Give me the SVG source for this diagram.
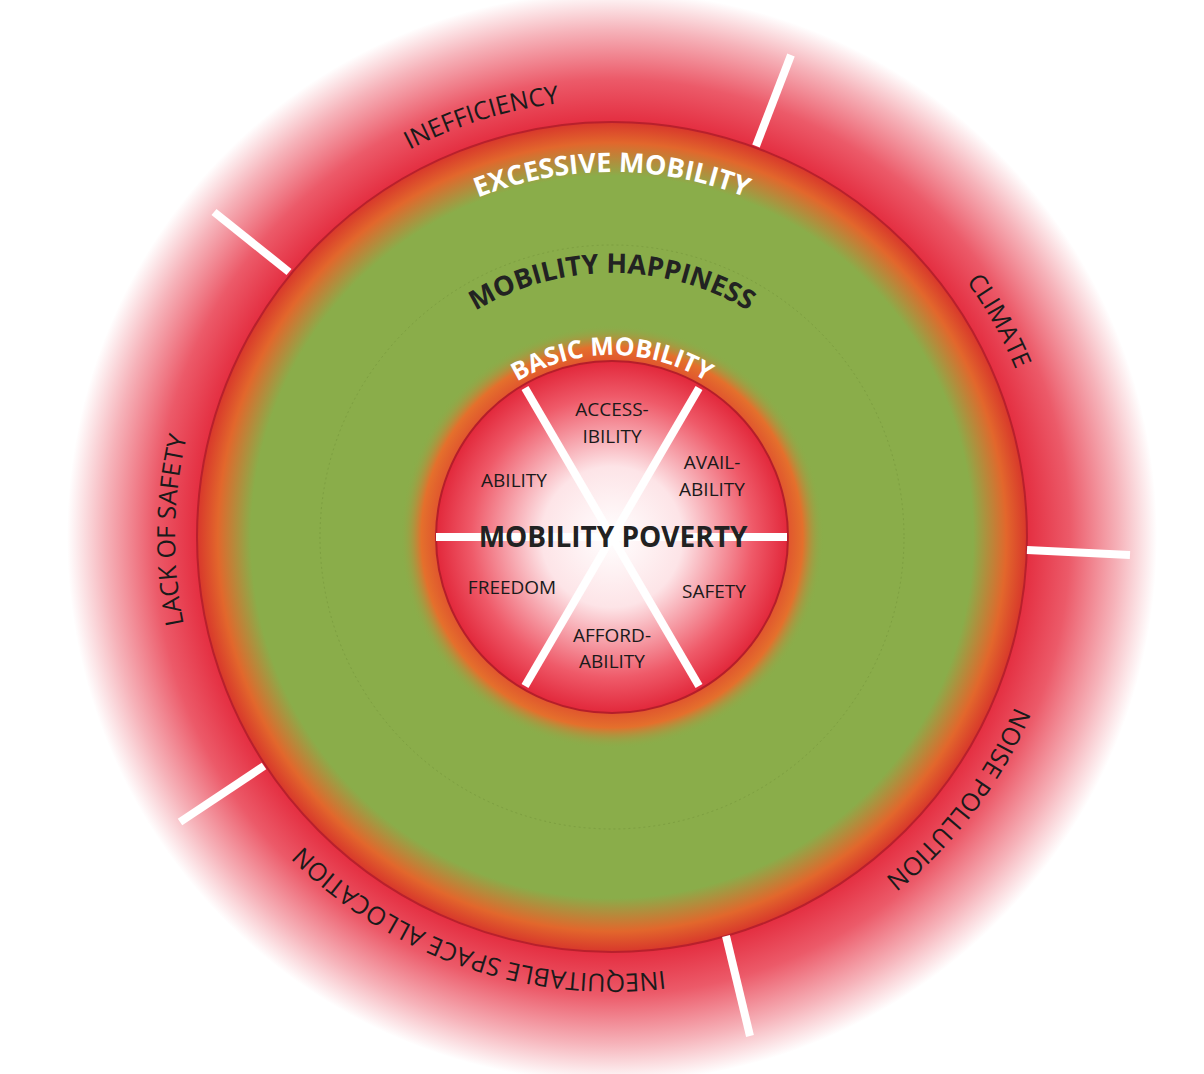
<svg xmlns="http://www.w3.org/2000/svg" width="1204" height="1074" viewBox="0 0 1204 1074">
<style>
.o{font-family:"Open Sans","Liberation Sans",sans-serif;font-size:25px;fill:#1a1a1a}
.w{font-family:"Open Sans","Liberation Sans",sans-serif;font-weight:bold;fill:#fff}
.d{font-family:"Open Sans","Liberation Sans",sans-serif;font-weight:bold;fill:#222}
.s{font-family:"Open Sans","Liberation Sans",sans-serif;font-size:19px;fill:#1a1a1a;text-anchor:middle}
.div{stroke:#fff;stroke-width:8}
</style>
<defs>
<radialGradient id="glow" cx="612" cy="537" r="545" gradientUnits="userSpaceOnUse">
<stop offset="0.75" stop-color="#e3283b"/>
<stop offset="0.84" stop-color="#ec5a69"/>
<stop offset="0.93" stop-color="#f6b3ba"/>
<stop offset="1" stop-color="#ffffff"/>
</radialGradient>
<radialGradient id="green" cx="612" cy="537" r="415" gradientUnits="userSpaceOnUse">
<stop offset="0" stop-color="#8aad4a"/>
<stop offset="0.87" stop-color="#8aad4a"/>
<stop offset="0.95" stop-color="#e2672c"/>
<stop offset="1" stop-color="#d8372b"/>
</radialGradient>
<radialGradient id="ring" cx="612" cy="537" r="212" gradientUnits="userSpaceOnUse">
<stop offset="0.8" stop-color="#df4a2e"/>
<stop offset="0.9" stop-color="#e4702c"/>
<stop offset="1" stop-color="#8aad4a" stop-opacity="0"/>
</radialGradient>
<radialGradient id="inner" cx="612" cy="537" r="176" gradientUnits="userSpaceOnUse">
<stop offset="0" stop-color="#ffffff"/>
<stop offset="0.4" stop-color="#fde4e7"/>
<stop offset="0.8" stop-color="#ef5a69"/>
<stop offset="1" stop-color="#e2283b"/>
</radialGradient>
<path id="c437b" d="M612,974 A437,437 0 1 1 612,100 A437,437 0 1 1 612,974"/>
<path id="c437t" d="M612,100 A437,437 0 1 1 612,974 A437,437 0 1 1 612,100"/>
<path id="c365" d="M612,902 A365,365 0 1 1 612,172 A365,365 0 1 1 612,902"/>
<path id="c264" d="M612,801 A264,264 0 1 1 612,273 A264,264 0 1 1 612,801"/>
<path id="c182" d="M612,719 A182,182 0 1 1 612,355 A182,182 0 1 1 612,719"/>
</defs>
<rect width="1204" height="1074" fill="#fff"/>
<g id="outer-ring">
<circle cx="612" cy="537" r="545" fill="url(#glow)"/>
</g>
<g id="happiness-zone">
<circle cx="612" cy="537" r="415" fill="url(#green)" stroke="#b8202c" stroke-width="2"/>
<circle cx="612" cy="537" r="292" fill="none" stroke="#6f8f38" stroke-width="1" stroke-dasharray="2 3" opacity="0.5"/>
<circle cx="612" cy="537" r="212" fill="url(#ring)"/>
</g>
<g id="poverty-core">
<circle cx="612" cy="537" r="176" fill="url(#inner)" stroke="#b51e2a" stroke-width="2"/>
</g>
<g id="connectors">
<line class="div" x1="436" y1="537" x2="787" y2="537"/>
<line class="div" x1="525" y1="388" x2="699" y2="686"/>
<line class="div" x1="699" y1="388" x2="525" y2="686"/>
<line class="div" x1="756" y1="146" x2="791" y2="55"/>
<line class="div" x1="289" y1="272" x2="214" y2="212"/>
<line class="div" x1="1027" y1="550" x2="1130" y2="555"/>
<line class="div" x1="264" y1="766" x2="180" y2="822"/>
<line class="div" x1="726" y1="936" x2="750" y2="1036"/>
</g>
<g id="outer-labels">
<text class="o" text-anchor="middle"><textPath href="#c437b" startOffset="45.2%">INEFFICIENCY</textPath></text>
<text class="o" text-anchor="middle"><textPath href="#c437b" startOffset="66.9%">CLIMATE</textPath></text>
<text class="o" text-anchor="middle"><textPath href="#c437b" startOffset="25.25%">LACK OF SAFETY</textPath></text>
<text class="o" text-anchor="middle"><textPath href="#c437t" startOffset="35.3%">NOISE POLLUTION</textPath></text>
<text class="o" text-anchor="middle"><textPath href="#c437t" startOffset="55.3%">INEQUITABLE SPACE ALLOCATION</textPath></text>
</g>
<g id="zone-labels">
<text class="w" font-size="27" text-anchor="middle"><textPath href="#c365" startOffset="50%">EXCESSIVE MOBILITY</textPath></text>
<text class="d" font-size="27" text-anchor="middle"><textPath href="#c264" startOffset="50%">MOBILITY HAPPINESS</textPath></text>
<text class="w" font-size="25" text-anchor="middle"><textPath href="#c182" startOffset="50%">BASIC MOBILITY</textPath></text>
</g>
<g id="core-labels">
<text class="s" x="612" y="416">ACCESS-</text>
<text class="s" x="612" y="443">IBILITY</text>
<text class="s" x="712" y="469">AVAIL-</text>
<text class="s" x="712" y="496">ABILITY</text>
<text class="s" x="514" y="487">ABILITY</text>
<text class="s" x="512" y="594">FREEDOM</text>
<text class="s" x="714" y="598">SAFETY</text>
<text class="s" x="612" y="642">AFFORD-</text>
<text class="s" x="612" y="668">ABILITY</text>
<text class="d" x="613" y="547" font-size="28" text-anchor="middle">MOBILITY POVERTY</text>
</g>
</svg>
